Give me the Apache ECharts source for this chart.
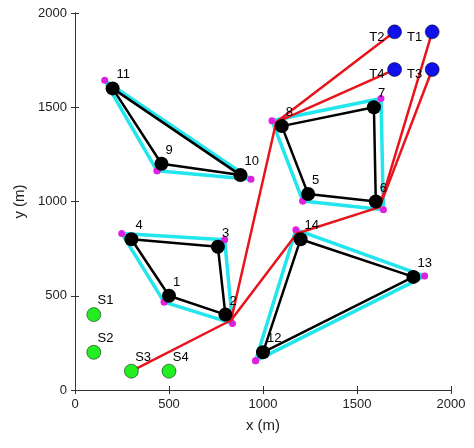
<!DOCTYPE html><html><head><meta charset="utf-8">
<script src="https://cdn.jsdelivr.net/npm/echarts@6/dist/echarts.min.js"></script>
<style>html,body{margin:0;padding:0;background:#fff}#c{width:474px;height:448px}</style></head><body><div id="c"></div>
<script>
const nodeNames=['1','2','3','4','5','6','7','8','9','10','11','12','13','14'];
const nodeX=[500,800,760,300,1240,1600,1590,1100,460,880,200,1000,1800,1200];
const nodeY=[500,400,760,800,1040,1000,1500,1400,1200,1140,1600,200,600,800];
const clusters=[[1,2,3,4],[5,6,7,8],[9,10,11],[12,13,14]];
const targetNames=['T1','T2','T3','T4'];
const targetX=[1900,1700,1900,1700];
const targetY=[1900,1900,1700,1700];
const sourceNames=['S1','S2','S3','S4'];
const sourceX=[100,100,300,500];
const sourceY=[400,200,100,100];
const routeA=[[300,100],[830,370],[1070,1420],[1700,1900]];
const routeA2=[[1070,1420],[1700,1700]];
const routeB=[[830,370],[1180,830],[1620,970],[1900,1900]];
const routeB2=[[1620,970],[1900,1700]];

const series=[];
const font='Arial, Liberation Sans, sans-serif';
const D=40;
clusters.forEach(cl=>{
  const pts=cl.map(i=>[nodeX[i-1],nodeY[i-1]]);
  const n=pts.length;
  let area=0;for(let i=0;i<n;i++){const a=pts[i],b=pts[(i+1)%n];area+=a[0]*b[1]-b[0]*a[1];}
  const s=area>0?1:-1;
  const nrm=(a,b)=>{const dx=b[0]-a[0],dy=b[1]-a[1],l=Math.hypot(dx,dy);return [s*dy/l,-s*dx/l];};
  const exp=pts.map((p,i)=>{const n1=nrm(pts[(i-1+n)%n],p),n2=nrm(p,pts[(i+1)%n]);
    const dot=n1[0]*n2[0]+n1[1]*n2[1];let k=D/(1+dot);const mx=n1[0]+n2[0],my=n1[1]+n2[1];
    let L=Math.hypot(mx,my)*k; if(L>D*1.5){k*=D*1.5/L;}
    return [p[0]+mx*k,p[1]+my*k];});
  series.push({type:'line',data:[...exp,exp[0]],symbol:'circle',symbolSize:7,showSymbol:true,itemStyle:{color:'#e020e0',opacity:1},lineStyle:{color:'#22e5ee',width:3.5},z:1,silent:true,animation:false});
  series.push({type:'line',data:[...pts,pts[0]],symbol:'none',lineStyle:{color:'#000',width:2.5},z:3,animation:false});
});
[routeA,routeA2,routeB,routeB2].forEach(r=>series.push({type:'line',data:r,symbol:'none',lineStyle:{color:'#e8141c',width:2.5},z:4,animation:false}));
const lab={show:true,position:[11,-13],color:'#000',fontSize:13,fontFamily:font};
series.push({type:'scatter',data:nodeX.map((x,i)=>({value:[x,nodeY[i]],name:nodeNames[i]})),symbolSize:14,itemStyle:{color:'#000',opacity:1},label:Object.assign({formatter:'{b}'},lab),z:5,animation:false});
series.push({type:'scatter',data:targetX.map((x,i)=>({value:[x,targetY[i]],name:targetNames[i]})),symbolSize:14,itemStyle:{color:'#1010e8',borderColor:'#000',borderWidth:0.5,opacity:1},label:{show:true,formatter:'{b}',position:[-18,6],color:'#000',fontSize:13,fontFamily:font},z:6,animation:false});
series.push({type:'scatter',data:sourceX.map((x,i)=>({value:[x,sourceY[i]],name:sourceNames[i]})),symbolSize:14,itemStyle:{color:'#22ee22',borderColor:'#000',borderWidth:0.5,opacity:1},label:Object.assign({formatter:'{b}'},lab),z:6,animation:false});
const ax={min:0,max:2000,interval:500,axisLine:{lineStyle:{color:'#333'}},axisTick:{inside:true,length:4,lineStyle:{color:'#333'}},axisLabel:{color:'#222',fontSize:13,fontFamily:font,formatter:v=>String(v)},splitLine:{show:false},nameTextStyle:{color:'#222',fontSize:15,fontFamily:font},nameLocation:'middle'};
const chart=echarts.init(document.getElementById('c'));
chart.setOption({animation:false,grid:{left:75,right:23,top:13,bottom:58},
xAxis:[Object.assign({},ax,{type:'value',name:'x (m)',nameGap:28}),Object.assign({},ax,{type:'value',position:'top',axisLabel:{show:false},name:''})],
yAxis:[Object.assign({},ax,{type:'value',name:'y (m)',nameGap:45}),Object.assign({},ax,{type:'value',position:'right',axisLabel:{show:false},name:''})],
series});
</script></body></html>
